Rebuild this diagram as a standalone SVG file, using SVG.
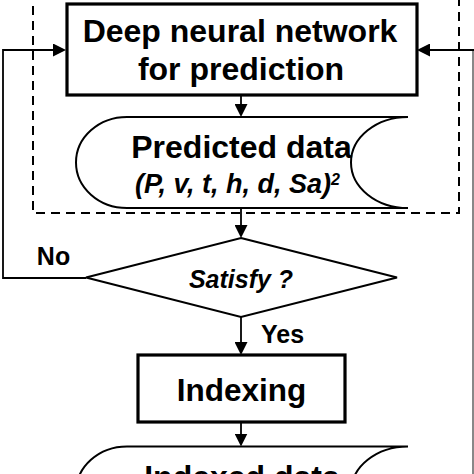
<svg xmlns="http://www.w3.org/2000/svg" width="474" height="474" viewBox="0 0 474 474">
<style>
.box{fill:#fff;stroke:#000;stroke-width:3.2}
.shape{fill:#fff;stroke:#000;stroke-width:2}
.ln{fill:none;stroke:#000;stroke-width:1.8}
.t{font-family:"Liberation Sans",Arial,sans-serif;font-weight:bold;fill:#000}
.it{font-style:italic}
</style>
<defs>
<marker id="ah" markerUnits="userSpaceOnUse" markerWidth="13" markerHeight="13" viewBox="0 0 13 13" refX="10" refY="6.5" orient="auto">
<path d="M0,0 L13,6.5 L0,13 Z" fill="#000"/>
</marker>
</defs>
<rect width="474" height="474" fill="#fff"/>
<g id="dashed-frame">
<rect x="33" y="-12" width="426" height="225" fill="none" stroke="#000" stroke-width="2" stroke-dasharray="9 6"/>
</g>
<g id="connectors">
<line class="ln" x1="241" y1="95" x2="241" y2="114" marker-end="url(#ah)"/>
<line class="ln" x1="241" y1="208" x2="241" y2="235" marker-end="url(#ah)"/>
<line class="ln" x1="241" y1="317" x2="241" y2="352" marker-end="url(#ah)"/>
<line class="ln" x1="241" y1="422" x2="241" y2="443.5" marker-end="url(#ah)"/>
<polyline class="ln" points="86,278 3,278 3,50 63,50" marker-end="url(#ah)"/>
<line x1="473" y1="474" x2="473" y2="50" stroke="#888" stroke-width="2"/>
<line class="ln" x1="474" y1="50" x2="420" y2="50" marker-end="url(#ah)"/>
</g>
<g id="dnn">
<rect class="box" x="67" y="4" width="350" height="91"/>
<text class="t" x="240" y="42" font-size="32" text-anchor="middle">Deep neural network</text>
<text class="t" x="241" y="80" font-size="32" text-anchor="middle">for prediction</text>
</g>
<g id="predicted">
<path class="shape" d="M127,117 L408,117 A57,45.5 0 0 0 408,208 L127,208 A51,45.5 0 0 1 127,117 Z"/>
<text class="t" x="241.5" y="158" font-size="32" text-anchor="middle">Predicted data</text>
<text class="t it" x="135" y="192.5" font-size="27">(P, v, t, h, d, Sa)<tspan font-size="16" dy="-7.5">2</tspan></text>
</g>
<g id="satisfy">
<polygon class="shape" points="241,238 397,277.5 241,317 86,277.5"/>
<text class="t it" x="241" y="288" font-size="25" text-anchor="middle">Satisfy ?</text>
</g>
<g id="labels">
<text class="t" x="53.5" y="264.5" font-size="25" text-anchor="middle">No</text>
<text class="t" x="261" y="343" font-size="25">Yes</text>
</g>
<g id="indexing">
<rect class="box" x="138" y="355" width="207" height="67"/>
<text class="t" x="241.5" y="400.5" font-size="31.5" text-anchor="middle">Indexing</text>
</g>
<g id="indexed">
<path class="shape" d="M127,446.5 L408,446.5 A57,45.5 0 0 0 408,537.5 L127,537.5 A51,45.5 0 0 1 127,446.5 Z"/>
<text class="t" x="242" y="488" font-size="32" text-anchor="middle">Indexed data</text>
</g>
</svg>
